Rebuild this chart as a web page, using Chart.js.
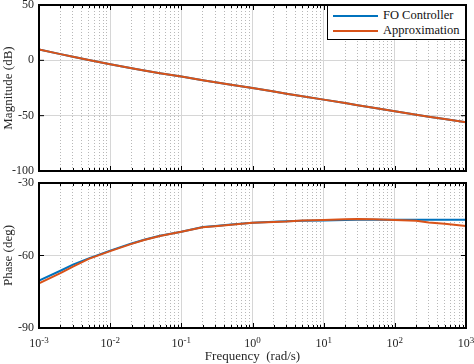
<!DOCTYPE html>
<html>
<head>
<meta charset="utf-8">
<script src="https://cdn.jsdelivr.net/npm/chart.js@4.4.1/dist/chart.umd.min.js"></script>
<style>
body { margin: 0; background: #fff; width: 474px; height: 364px; position: relative; overflow: hidden; font-family: 'Liberation Serif', serif; }
#topWrap { position: absolute; left: 0; top: 0; width: 474px; height: 178px; }
#botWrap { position: absolute; left: 0; top: 177px; width: 474px; height: 187px; }
#legend { position: absolute; left: 327px; top: 5px; width: 139px; height: 35px; box-sizing: border-box; border: 1.5px solid #000; background: #fff; z-index: 5; font-size: 12.5px; color: #111; }
.item { position: absolute; left: 0; height: 15px; width: 139px; }
.item .ln { position: absolute; left: 5px; top: 7px; width: 45px; height: 2px; }
.item .tx { position: absolute; left: 55px; top: 0; line-height: 15px; white-space: nowrap; }
</style>
</head>
<body>
<div id="topWrap"><canvas id="magChart"></canvas></div>
<div id="botWrap"><canvas id="phaseChart"></canvas></div>
<div id="legend">
  <div class="item" style="top:2px"><span class="ln" style="background:#0072BD"></span><span class="tx">FO Controller</span></div>
  <div class="item" style="top:17px"><span class="ln" style="background:#D95319"></span><span class="tx">Approximation</span></div>
</div>
<script>
var freq = [0.001, 0.002, 0.003, 0.005, 0.01, 0.02, 0.03, 0.05, 0.1, 0.2, 0.3, 0.5, 1, 2, 3, 5, 10, 20, 30, 50, 100, 200, 300, 500, 1000];
var magFO = [9.8, 5.6, 3.2, 0.3, -3.6, -7.2, -9.2, -11.6, -14.7, -17.9, -19.8, -22.1, -25, -28.2, -30.1, -32.4, -35.5, -38.6, -40.5, -42.8, -46, -49.1, -50.9, -53.1, -56];
var magApprox = [9.8, 5.6, 3.2, 0.3, -3.6, -7.2, -9.2, -11.6, -14.7, -17.9, -19.8, -22.1, -25, -28.2, -30.1, -32.4, -35.5, -38.6, -40.5, -42.8, -46, -49.1, -50.9, -53.1, -56];
var phaseFO = [-70.4, -66.3, -63.8, -61.2, -58, -55, -53.5, -51.8, -50.2, -48.2, -47.8, -47.2, -46.4, -46, -45.8, -45.6, -45.5, -45.3, -45.2, -45.2, -45.2, -45.2, -45.2, -45.2, -45.2];
var phaseApprox = [-71.5, -67.3, -64.6, -61.4, -58.2, -55.2, -53.6, -51.9, -50.2, -48.3, -47.9, -47.3, -46.4, -46.1, -45.9, -45.5, -45.3, -45, -44.9, -45, -45.3, -45.6, -46.3, -46.9, -47.8];
var xExponents = [-3, -2, -1, 0, 1, 2, 3];
var magTicks = [50, 0, -50, -100];
var phaseTicks = [-30, -60, -90];

var blue = '#0072BD';
var orange = '#D95319';
var serif = "'Liberation Serif', serif";
Chart.defaults.font.family = serif;
Chart.defaults.color = '#262626';

function pts(ys) {
    return freq.map(function (f, i) { return { x: f, y: ys[i] }; });
}

// 1..9 per decade, powers of ten marked major
function logTicks(scale) {
    var t = [];
    for (var e = xExponents[0]; e < xExponents[xExponents.length - 1]; e++) {
        for (var m = 1; m < 10; m++) {
            t.push({ value: m * Math.pow(10, e), major: m === 1 });
        }
    }
    t.push({ value: Math.pow(10, xExponents[xExponents.length - 1]), major: true });
    scale.ticks = t;
}

// box + inward tick marks, matlab style
var framePlugin = {
    id: 'frame',
    afterDraw: function (chart) {
        var a = chart.chartArea, c = chart.ctx, xs = chart.scales.x, ys = chart.scales.y;
        c.save();
        c.strokeStyle = '#000';
        c.lineWidth = 1;
        c.beginPath();
        xs.ticks.forEach(function (t) {
            var px = Math.round(xs.getPixelForValue(t.value)) + 0.5;
            var len = t.major ? 5 : 3;
            c.moveTo(px, a.bottom); c.lineTo(px, a.bottom - len);
            c.moveTo(px, a.top); c.lineTo(px, a.top + len);
        });
        ys.ticks.forEach(function (t) {
            var py = ys.getPixelForValue(t.value);
            c.moveTo(a.left, py); c.lineTo(a.left + 5, py);
            c.moveTo(a.right, py); c.lineTo(a.right - 5, py);
        });
        c.stroke();
        c.lineWidth = 2;
        c.strokeRect(a.left, a.top, a.right - a.left, a.bottom - a.top);
        c.restore();
    }
};

// 10^k labels with raised exponent
var powerLabels = {
    id: 'powerLabels',
    afterDraw: function (chart) {
        var xs = chart.scales.x, c = chart.ctx, y0 = chart.chartArea.bottom + 18.5;
        c.save();
        c.fillStyle = '#262626';
        c.textAlign = 'left';
        c.textBaseline = 'alphabetic';
        xExponents.forEach(function (e) {
            var px = xs.getPixelForValue(Math.pow(10, e));
            c.font = "12px " + serif;
            var w1 = c.measureText('10').width;
            c.font = "9px " + serif;
            var w2 = c.measureText(String(e)).width;
            var x0 = px - (w1 + w2) / 2;
            c.font = "12px " + serif;
            c.fillText('10', x0, y0);
            c.font = "9px " + serif;
            c.fillText(String(e), x0 + w1, y0 - 4);
        });
        c.restore();
    }
};

function xScale(bottom) {
    return {
        type: 'logarithmic',
        min: 0.001,
        max: 1000,
        afterBuildTicks: logTicks,
        afterFit: function (s) {
            s.height = bottom ? 36 : 0;
            s.paddingLeft = 0; s.paddingRight = 0;
        },
        ticks: { display: false, autoSkip: false },
        grid: {
            drawTicks: false,
            lineWidth: 1,
            color: function (c) { return c.tick && c.tick.major ? '#d6d6d6' : '#b8b8b8'; }
        },
        border: {
            display: false,
            dash: function (c) { return c.tick && !c.tick.major ? [1, 2] : []; }
        },
        title: {
            display: bottom,
            text: 'Frequency  (rad/s)',
            font: { size: 13 },
            color: '#262626',
            padding: 0
        }
    };
}

function yScale(min, max, label, ticks) {
    return {
        min: min,
        max: max,
        afterBuildTicks: function (s) { s.ticks = ticks.map(function (v) { return { value: v }; }); },
        afterFit: function (s) {
            s.width = 39;
            s.paddingTop = 0; s.paddingBottom = 0;
        },
        ticks: { font: { size: 12 }, padding: 5, color: '#262626' },
        grid: { drawTicks: false, color: '#d6d6d6', lineWidth: 1 },
        border: { display: false },
        title: { display: true, text: label, font: { size: 13 }, color: '#262626', padding: 1 }
    };
}

function lineSet(label, data, color, order) {
    return {
        label: label,
        data: pts(data),
        borderColor: color,
        backgroundColor: color,
        borderWidth: 2,
        pointRadius: 0,
        tension: 0,
        order: order
    };
}

var magChart = new Chart(document.getElementById('magChart'), {
    type: 'line',
    data: {
        datasets: [
            lineSet('FO Controller', magFO, blue, 1),
            lineSet('Approximation', magApprox, orange, 0)
        ]
    },
    options: {
        responsive: true,
        maintainAspectRatio: false,
        animation: false,
        layout: { padding: { top: 5, right: 8, bottom: 7, left: 0 } },
        plugins: { legend: { display: false }, tooltip: { enabled: false } },
        scales: {
            x: xScale(false),
            y: yScale(-100, 50, 'Magnitude (dB)', magTicks)
        }
    },
    plugins: [framePlugin]
});

var phaseChart = new Chart(document.getElementById('phaseChart'), {
    type: 'line',
    data: {
        datasets: [
            lineSet('FO Controller', phaseFO, blue, 1),
            lineSet('Approximation', phaseApprox, orange, 0)
        ]
    },
    options: {
        responsive: true,
        maintainAspectRatio: false,
        animation: false,
        layout: { padding: { top: 6, right: 8, bottom: 0, left: 0 } },
        plugins: { legend: { display: false }, tooltip: { enabled: false } },
        scales: {
            x: xScale(true),
            y: yScale(-90, -30, 'Phase (deg)', phaseTicks)
        }
    },
    plugins: [framePlugin, powerLabels]
});
</script>
</body>
</html>
